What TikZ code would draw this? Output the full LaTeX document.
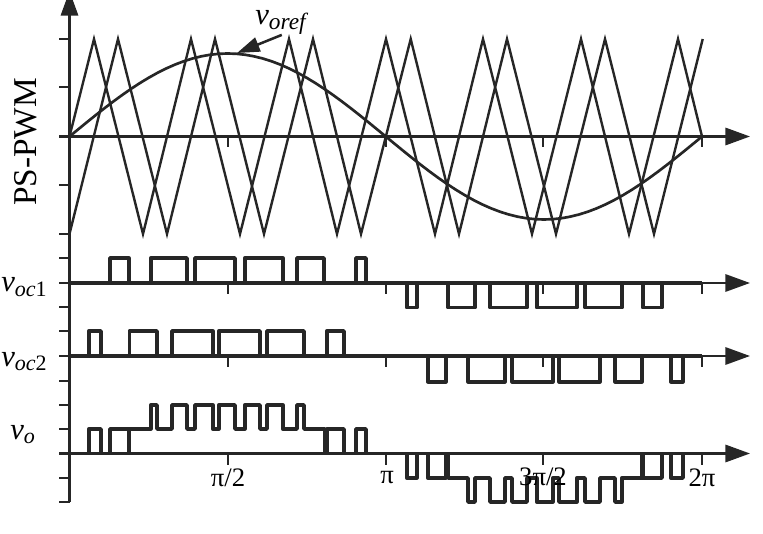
\documentclass[tikz,border=0pt]{standalone}
\usepackage{fontspec}
\setmainfont{Liberation Serif}
\usetikzlibrary{positioning,arrows.meta}
\newcommand{\vlabel}[2]{\fontsize{23}{23}\selectfont\textit{v}\raisebox{-3.5pt}{\fontsize{16.5}{16.5}\selectfont\textit{#1}#2}}
\begin{document}
\begin{tikzpicture}[
    x=0.75pt, y=-0.75pt,
    axisline/.style={line width=1.7pt, black!85, -{Triangle[length=18.5pt, width=13pt]}},
    tickline/.style={line width=1.5pt, black!85},
    carrier/.style={line width=1.8pt, black!85, line join=miter},
    refwave/.style={line width=2pt, black!85},
    pulse/.style={line width=2.7pt, black!85, line join=round},
    ticklabel/.style={inner sep=0pt, font=\fontsize{20}{20}\selectfont},
    siglabel/.style={inner sep=0pt, anchor=base west}
]
\useasboundingbox (0,0) rectangle (763,534);

% Axes
\coordinate (ybot) at (69.5,502);
\coordinate (ytop) at (69.5,-9);
\draw[axisline] (ybot) -- (ytop);
\foreach \y/\name in {136.5/top, 283/one, 356/two, 453.5/out} {
    \coordinate (a\name) at (59,\y);
    \coordinate (e\name) at (750,\y);
    \draw[axisline] (a\name) -- (e\name);
    \foreach \x in {228,386,543,702}
        \draw[tickline] (\x,\y) -- (\x,\y+11);
}
\foreach \y in {39,87,185,234,258,307,331,381,405,429,478,502}
    \draw[tickline] (59,\y) -- (69.5,\y);

% Carriers
\draw[carrier] (69.5,136.5) -- (94,39) -- (143,234) -- (191,39) -- (240,234) -- (289,39) -- (337,234) -- (386,39) -- (435,234) -- (483,39) -- (532,234) -- (581,39) -- (629,234) -- (678,39) -- (702,136.5);
\draw[carrier] (69.5,234) -- (118,39) -- (167,234) -- (215,39) -- (264,234) -- (313,39) -- (361,234) -- (410.7,39) -- (459,234) -- (507,39) -- (556,234) -- (605,39) -- (654,234) -- (702.7,39);

% Reference
\draw[refwave] plot[domain=0:360, samples=73] ({69.5+1.757*\x},{136.5-83*sin(\x)});
\node[siglabel] (vref) at (255,25) {\fontsize{23}{23}\selectfont\textit{v}\raisebox{-3.5pt}{\fontsize{17.5}{17.5}\selectfont\textit{oref}}};
\coordinate (vtip) at (237,53);
\draw[line width=1.9pt, black!85, -{Triangle[length=17pt, width=11pt]}] (vref.south) -- (vtip);

% Cell 1
\draw[pulse] (69.5,283) -- (702,283);
\foreach \a/\b in {110/128.7, 150.7/187, 195/235, 244.7/282.7, 297/324, 356/366}
    \draw[pulse] (\a,283) |- (\b,258) -- (\b,283);
\foreach \a/\b in {406.7/416.7, 448/475, 490/527, 536.7/576.7, 585/621.7, 642.7/662}
    \draw[pulse] (\a,283) |- (\b,307.7) -- (\b,283);

% Cell 2
\draw[pulse] (69.5,356) -- (702,356);
\foreach \a/\b in {88.7/101, 129.3/157, 172/212.7, 218.7/260, 267/304, 326.7/344}
    \draw[pulse] (\a,356) |- (\b,331) -- (\b,356);
\foreach \a/\b in {427.7/445.7, 468/505, 512/552.7, 559/600, 615/642, 670.7/683}
    \draw[pulse] (\a,356) |- (\b,381.7) -- (\b,356);

% Output
\draw[pulse] (69.5,453.5) -| (88.7,429) -| (101,453.5) -| (110,429) -| (129,453.5) -| (129.5,429)
    -| (150.7,405) -| (157,429) -| (172,405) -| (187,429) -| (195,405) -| (212.7,429) -| (218.7,405)
    -| (235,429) -| (244.7,405) -| (260,429) -| (267,405) -| (282.7,429) -| (297,405) -| (304,429)
    -| (325,453.5) -| (326.7,429) -| (344,453.5) -| (356,429) -| (366,453.5) -| (406.7,478)
    -| (416.7,453.5) -| (427.7,478) -| (445.7,453.5) -| (448,478) -| (468,502) -| (475,478)
    -| (490,502) -| (505,478) -| (512,502) -| (527,478) -| (536.7,502) -| (552.7,478) -| (559,502)
    -| (576.7,478) -| (585,502) -| (600,478) -| (615,502) -| (621.7,478) -| (642,453.5) -| (642.7,478)
    -| (662,453.5) -| (670.7,478) -| (683,453.5) -- (702,453.5);

% Labels
\node[inner sep=0pt, rotate=90, font=\fontsize{25}{25}\selectfont] (title) at (26,142) {PS-PWM};
\node[siglabel] (voc1) at (1,292) {\vlabel{oc}{1}};
\node[siglabel] (voc2) at (1,366) {\vlabel{oc}{2}};
\node[siglabel] (vo) at (10,439) {\vlabel{o}{}};
\node[ticklabel] (halfpi) at (228,478) {π/2};
\node[ticklabel] (pi) at (387,478) {π};
\node[ticklabel] (threehalfpi) at (543,477) {3π/2};
\node[ticklabel] (twopi) at (702,478) {2π};
\end{tikzpicture}
\end{document}
